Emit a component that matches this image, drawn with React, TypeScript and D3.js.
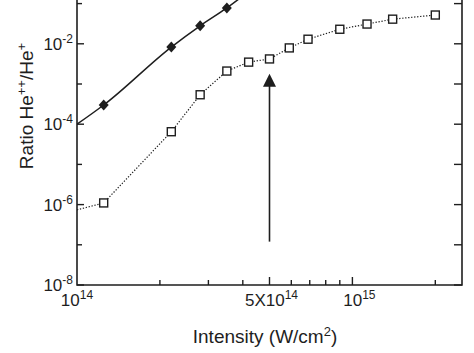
import React from "react";
import * as d3 from "d3";

// measured ratios, He++/He+ vs intensity
const solidX = [1.25e14, 2.2e14, 2.8e14, 3.5e14, 4.2e14];
const solidY = [3.0e-4, 8.3e-3, 2.8e-2, 7.8e-2, 0.2];
const solidStart = { x: 1e14, y: 1.0e-4 };

const openX = [1.25e14, 2.2e14, 2.8e14, 3.5e14, 4.2e14, 5.0e14, 5.9e14, 6.9e14, 9.0e14, 1.13e15, 1.4e15, 2.0e15];
const openY = [1.1e-6, 6.5e-5, 5.4e-4, 2.1e-3, 3.5e-3, 4.2e-3, 7.9e-3, 1.3e-2, 2.3e-2, 3.1e-2, 4.1e-2, 5.2e-2];
const openStart = { x: 1e14, y: 7.4e-7 };

const arrowX = 5e14;
const arrowFrom = 1.2e-7;
const arrowTo = 1.8e-3;

const yTickLabels = [
  { v: 1e-2, base: "10", sup: "-2" },
  { v: 1e-4, base: "10", sup: "-4" },
  { v: 1e-6, base: "10", sup: "-6" },
  { v: 1e-8, base: "10", sup: "-8" },
];
const xTickLabels = [
  { v: 1e14, base: "10", sup: "14", dx: 0 },
  { v: 5e14, base: "5X10", sup: "14", dx: 2 },
  { v: 1e15, base: "10", sup: "15", dx: 7 },
];
const xMinor = [2e14, 3e14, 4e14, 6e14, 7e14, 8e14, 9e14, 2e15];
const xMajor = [5e14, 1e15];
const yMajor = [1e-8, 1e-6, 1e-4, 1e-2, 1];
const yMinor = [1e-7, 1e-5, 1e-3, 1e-1];

const W = 474;
const H = 353;
const left = 77;
const right = 462;
const bottom = 285;

const font = "'Liberation Sans', Arial, Helvetica, sans-serif";

export default function App() {
  const x = d3.scaleLog().domain([1e14, 2.5e15]).range([left, right]);
  const y = d3.scaleLog().domain([1e-8, 1]).range([bottom, bottom - 8 * 40.2]);
  const top = y(1);

  const solidPts = [solidStart, ...solidX.map((v, i) => ({ x: v, y: solidY[i] }))];
  const openPts = [openStart, ...openX.map((v, i) => ({ x: v, y: openY[i] }))];

  const smooth = d3
    .line<{ x: number; y: number }>()
    .x((d) => x(d.x))
    .y((d) => y(d.y))
    .curve(d3.curveMonotoneX);
  const straight = d3
    .line<{ x: number; y: number }>()
    .x((d) => x(d.x))
    .y((d) => y(d.y));

  const ink = "#1e1e1e";
  const ax = arrowX;
  const tipY = y(arrowTo);

  return (
    <svg
      width={W}
      height={H}
      style={{ position: "absolute", left: 0, top: 0, background: "#fff" }}
      fontFamily={font}
    >
      <defs>
        <clipPath id="plot">
          <rect x={left} y={top - 20} width={right - left} height={bottom - top + 20} />
        </clipPath>
      </defs>

      {/* frame */}
      <path
        d={`M${left},${top - 20}V${bottom}H${right}V${top - 20}`}
        fill="none"
        stroke={ink}
        strokeWidth={1.6}
      />

      {/* y ticks, both sides, inward */}
      {yMajor.map((v) => (
        <g key={"ym" + v}>
          <line x1={left} x2={left + 7} y1={y(v)} y2={y(v)} stroke={ink} strokeWidth={1.4} />
          <line x1={right} x2={right - 8} y1={y(v)} y2={y(v)} stroke={ink} strokeWidth={1.4} />
        </g>
      ))}
      {yMinor.map((v) => (
        <g key={"yn" + v}>
          <line x1={left} x2={left + 5} y1={y(v)} y2={y(v)} stroke={ink} strokeWidth={1.4} />
          <line x1={right} x2={right - 8} y1={y(v)} y2={y(v)} stroke={ink} strokeWidth={1.4} />
        </g>
      ))}

      {/* x ticks */}
      {xMajor.map((v) => (
        <line key={"xm" + v} x1={x(v)} x2={x(v)} y1={bottom} y2={bottom - 8} stroke={ink} strokeWidth={1.4} />
      ))}
      {xMinor.map((v) => (
        <line key={"xn" + v} x1={x(v)} x2={x(v)} y1={bottom} y2={bottom - 5} stroke={ink} strokeWidth={1.4} />
      ))}

      {/* y tick labels */}
      {yTickLabels.map((t) => (
        <text key={"yl" + t.v} x={left - 4} y={y(t.v) + 6} textAnchor="end" fontSize={17} fill={ink}>
          {t.base}
          <tspan fontSize={12} dy={-7}>{t.sup}</tspan>
        </text>
      ))}

      {/* x tick labels */}
      {xTickLabels.map((t) => (
        <text key={"xl" + t.v} x={x(t.v) + t.dx} y={306} textAnchor="middle" fontSize={17} fill={ink}>
          {t.base}
          <tspan fontSize={12} dy={-7}>{t.sup}</tspan>
        </text>
      ))}

      {/* axis titles */}
      <text x={265} y={343} textAnchor="middle" fontSize={19} fill={ink}>
        Intensity (W/cm<tspan fontSize={13} dy={-7}>2</tspan>
        <tspan dy={7}>)</tspan>
      </text>
      <text transform="translate(33,106) rotate(-90)" textAnchor="middle" fontSize={19} fill={ink}>
        Ratio He<tspan fontSize={13} dy={-7}>++</tspan>
        <tspan dy={7}>/He</tspan>
        <tspan fontSize={13} dy={-7}>+</tspan>
      </text>

      <g clipPath="url(#plot)">
        {/* open squares, dotted */}
        <path
          d={straight(openPts) ?? ""}
          fill="none"
          stroke={ink}
          strokeWidth={1.2}
          strokeDasharray="1.3,1.7"
        />
        {openX.map((v, i) => (
          <rect
            key={"o" + i}
            x={x(v) - 4}
            y={y(openY[i]) - 4}
            width={8}
            height={8}
            fill="#fff"
            stroke={ink}
            strokeWidth={1.4}
          />
        ))}

        {/* filled diamonds, solid */}
        <path d={smooth(solidPts) ?? ""} fill="none" stroke={ink} strokeWidth={1.5} />
        {solidX.map((v, i) => (
          <path
            key={"s" + i}
            transform={`translate(${x(v)},${y(solidY[i])})`}
            d="M0,-5.5L5,0L0,5.5L-5,0Z"
            fill={ink}
          />
        ))}
      </g>

      {/* arrow */}
      <line x1={x(ax)} x2={x(ax)} y1={y(arrowFrom)} y2={tipY + 10} stroke={ink} strokeWidth={1.6} />
      <path
        d={`M${x(ax)},${tipY}L${x(ax) + 6.5},${tipY + 13}L${x(ax) - 6.5},${tipY + 13}Z`}
        fill={ink}
      />
    </svg>
  );
}
